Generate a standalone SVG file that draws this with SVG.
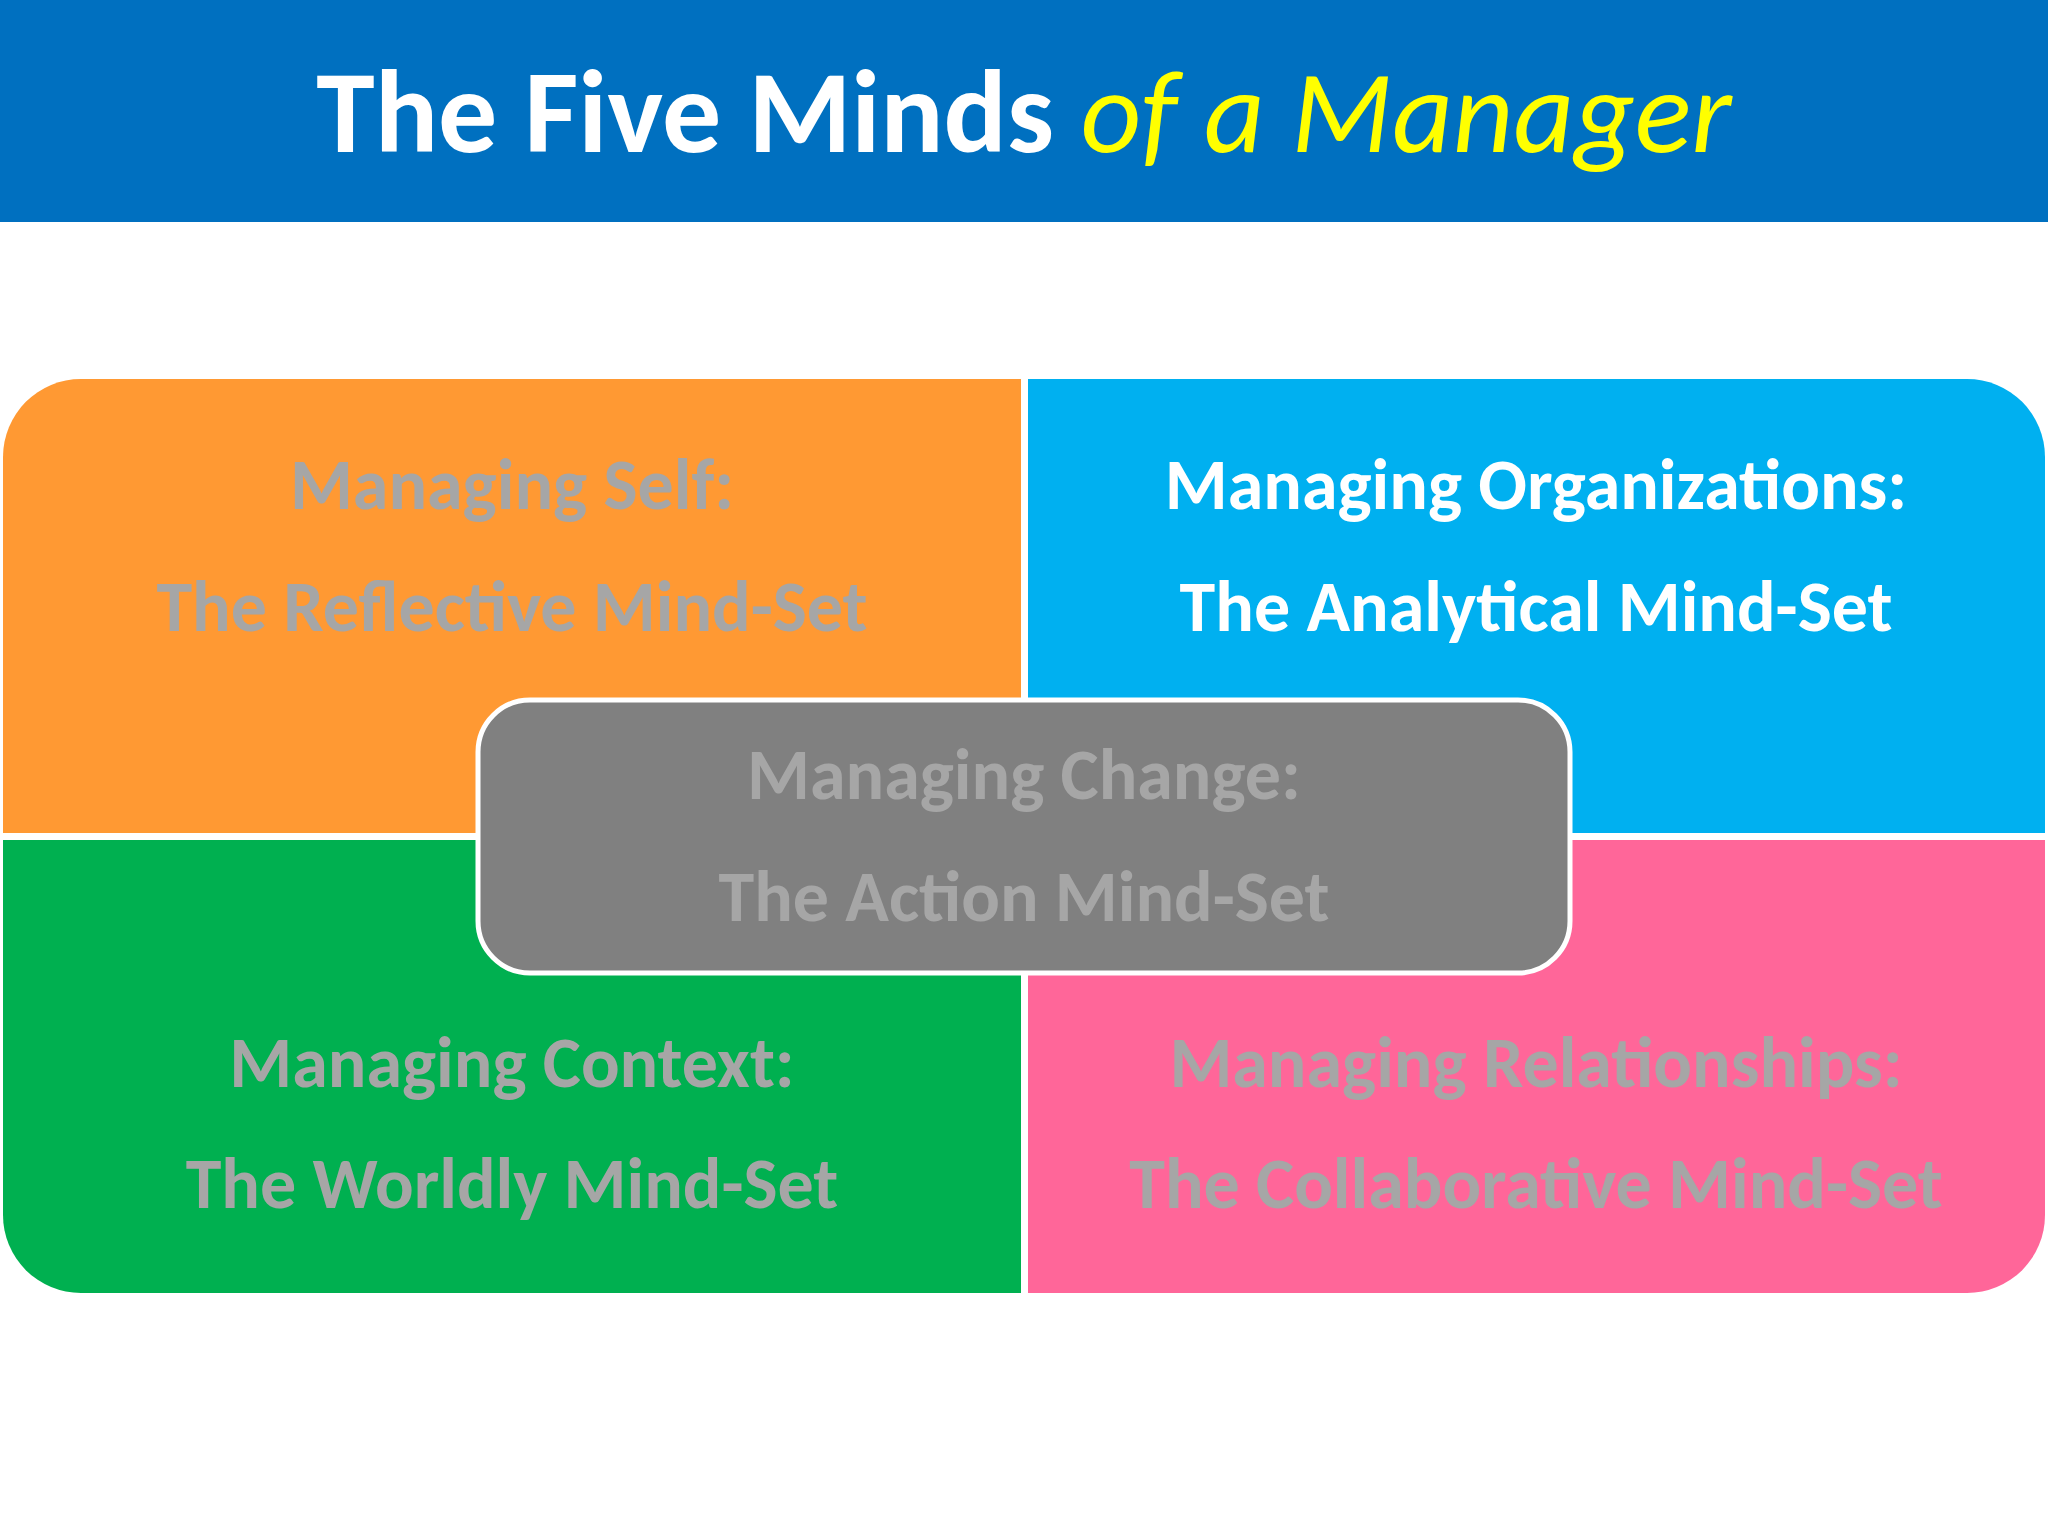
<svg xmlns="http://www.w3.org/2000/svg" width="2048" height="1536" viewBox="0 0 2048 1536">
<style>
.t{font-family:Carlito,"Open Sans","Liberation Sans",sans-serif;font-weight:bold;font-size:72px;text-anchor:middle;fill:#A6A6A6}
.w{fill:#FFFFFF}
</style>
<rect width="2048" height="1536" fill="#FFFFFF"/>
<g id="header">
<rect x="0" y="0" width="2048" height="222" fill="#0070C0"/>
<text x="1024" y="152" style="font-family:Carlito,'Open Sans','Liberation Sans',sans-serif;font-size:118px;text-anchor:middle" fill="#FFFFFF"><tspan font-weight="bold">The Five Minds </tspan><tspan font-style="italic" fill="#FFFF00">of a Manager</tspan></text>
</g>
<g id="self">
<path d="M3,833 V457 A78,78 0 0 1 81,379 H1021 V833 Z" fill="#FF9933"/>
<text class="t" x="512" y="509">Managing Self:</text>
<text class="t" x="512" y="631">The Reflective Mind-Set</text>
</g>
<g id="organizations">
<path d="M1028,379 H1967 A78,78 0 0 1 2045,457 V833 H1028 Z" fill="#00B0F0"/>
<text class="t w" x="1536" y="509">Managing Organizations:</text>
<text class="t w" x="1536" y="631">The Analytical Mind-Set</text>
</g>
<g id="context">
<path d="M3,840 H1021 V1293 H81 A78,78 0 0 1 3,1215 Z" fill="#00B050"/>
<text class="t" x="512" y="1087">Managing Context:</text>
<text class="t" x="512" y="1208">The Worldly Mind-Set</text>
</g>
<g id="relationships">
<path d="M1028,840 H2045 V1215 A78,78 0 0 1 1967,1293 H1028 Z" fill="#FF6699"/>
<text class="t" x="1536" y="1087">Managing Relationships:</text>
<text class="t" x="1536" y="1208">The Collaborative Mind-Set</text>
</g>
<g id="change">
<rect x="478" y="700" width="1092" height="273" rx="52" fill="#808080" stroke="#FFFFFF" stroke-width="5"/>
<text class="t" x="1024" y="799">Managing Change:</text>
<text class="t" x="1024" y="921">The Action Mind-Set</text>
</g>
<g id="connectors"></g>
</svg>
